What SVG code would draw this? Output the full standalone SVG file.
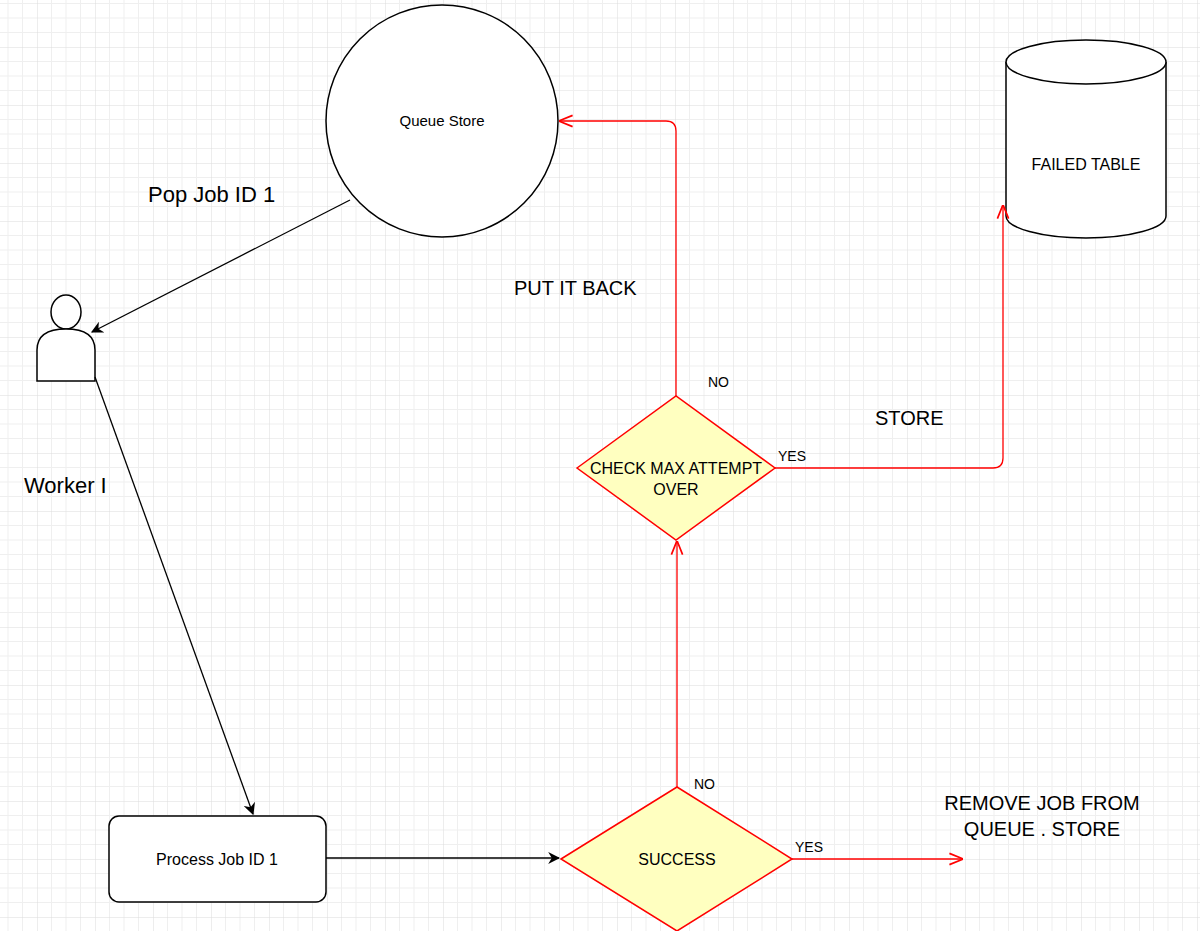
<svg xmlns="http://www.w3.org/2000/svg" width="1200" height="931" viewBox="0 0 1200 931">
<defs>
<pattern id="g" width="58" height="58" patternUnits="userSpaceOnUse" patternTransform="translate(37,47)">
<path d="M14.5 0V58M29 0V58M43.5 0V58M0 14.5H58M0 29H58M0 43.5H58" stroke="#efefef" stroke-width="1" fill="none"/>
<path d="M0 0V58M0 0H58" stroke="#dcdcdc" stroke-width="1" fill="none"/>
</pattern>
<marker id="ab" viewBox="0 0 10 10" refX="9" refY="5" markerWidth="12" markerHeight="12" markerUnits="userSpaceOnUse" orient="auto"><path d="M0 0L10 5L0 10L3 5Z" fill="#000"/></marker>
<marker id="ar" viewBox="0 0 10 10" refX="9" refY="5" markerWidth="14" markerHeight="14" markerUnits="userSpaceOnUse" orient="auto"><path d="M0 1L10 5L0 9" fill="none" stroke="#f00" stroke-width="1.2"/></marker>
<style>
.s{fill:#fff;stroke:#000;stroke-width:1.5}
.d{fill:#ffffc0;stroke:#f00;stroke-width:1.5}
.t{font-family:"Liberation Sans",Arial,sans-serif;fill:#000}
.bl{fill:none;stroke:#000;stroke-width:1.3}
.rd{fill:none;stroke:#f00;stroke-width:1.3}
</style>
</defs>
<rect width="1200" height="931" fill="#fff"/>
<rect width="1200" height="931" fill="url(#g)"/>
<g id="queue"><circle class="s" cx="442" cy="121" r="116"/><text class="t" x="442" y="126" font-size="15" text-anchor="middle">Queue Store</text></g>
<g id="failed"><path class="s" d="M1006 62V216A80 22 0 0 0 1166 216V62A80 22 0 0 0 1006 62Z"/><path class="s" fill="none" d="M1006 62A80 22 0 0 0 1166 62"/><text class="t" x="1086" y="170" font-size="16" text-anchor="middle">FAILED TABLE</text></g>
<g id="worker"><ellipse class="s" cx="66" cy="312" rx="15" ry="17"/><path class="s" d="M37 381V350Q37 329 66 329Q95 329 95 350V381Z"/></g>
<g id="process"><rect class="s" x="109" y="816" width="217" height="86" rx="10"/><text class="t" x="217" y="865" font-size="16" text-anchor="middle">Process Job ID 1</text></g>
<g id="success"><path class="d" d="M561 859L677 787L792 859L677 931Z"/><text class="t" x="677" y="865" font-size="16" text-anchor="middle">SUCCESS</text></g>
<g id="check"><path class="d" d="M577 468L676 396L775 468L676 540Z"/><text class="t" x="676" y="474" font-size="16" text-anchor="middle">CHECK MAX ATTEMPT</text><text class="t" x="676" y="495" font-size="16" text-anchor="middle">OVER</text></g>
<g id="connectors">
<path class="bl" d="M350 200L92 332" marker-end="url(#ab)"/>
<path class="bl" d="M95 377L253 814" marker-end="url(#ab)"/>
<path class="bl" d="M326 858H559" marker-end="url(#ab)"/>
<path class="rd" d="M677 787V542" marker-end="url(#ar)"/>
<path class="rd" d="M676 396V131Q676 121 666 121H560" marker-end="url(#ar)"/>
<path class="rd" d="M775 468H993Q1003 468 1003 458V206" marker-end="url(#ar)"/>
<path class="rd" d="M792 859H962" marker-end="url(#ar)"/>
</g>
<g id="labels">
<text class="t" x="148" y="202" font-size="22">Pop Job ID 1</text>
<text class="t" x="24" y="493" font-size="22">Worker I</text>
<text class="t" x="514" y="295" font-size="20">PUT IT BACK</text>
<text class="t" x="875" y="425" font-size="20">STORE</text>
<text class="t" x="708" y="387" font-size="14">NO</text>
<text class="t" x="778" y="461" font-size="14">YES</text>
<text class="t" x="694" y="789" font-size="14">NO</text>
<text class="t" x="795" y="852" font-size="14">YES</text>
<text class="t" x="1042" y="810" font-size="20" text-anchor="middle">REMOVE JOB FROM</text>
<text class="t" x="1042" y="836" font-size="20" text-anchor="middle">QUEUE . STORE</text>
</g>
</svg>
